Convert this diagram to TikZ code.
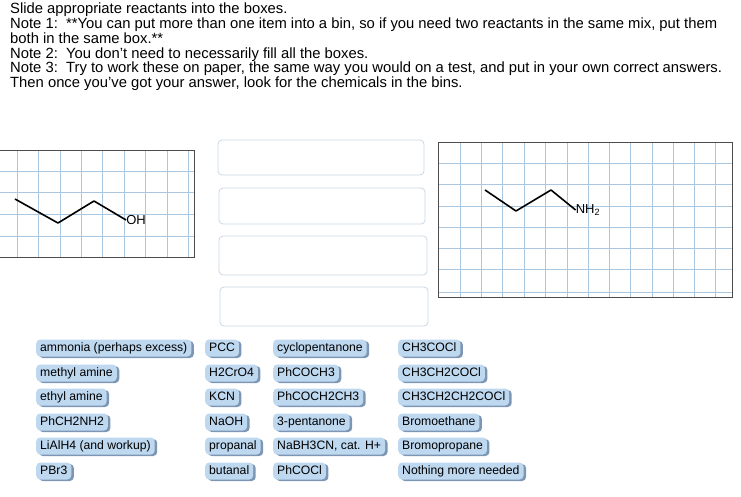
\documentclass[tikz,border=0pt]{standalone}
\usepackage{fontspec}
\setmainfont{Liberation Sans}
\begin{document}
\begin{tikzpicture}[x=1pt,y=-1pt,
  gridl/.style={draw={rgb,255:red,170;green,200;blue,225}, line width=0.8pt},
  frame/.style={draw=black!70, line width=0.9pt},
  bond/.style={line width=1.6pt, line join=round},
  slot/.style={draw={rgb,255:red,200;green,215;blue,230}, rounded corners=4pt, line width=0.8pt},
  tile/.style={fill={rgb,255:red,190;green,216;blue,240}, rounded corners=4pt, inner xsep=4pt, inner ysep=2.5pt, text height=9pt, text depth=3pt, anchor=west, font=\fontsize{12.2}{14}\selectfont,
    preaction={fill={rgb,255:red,125;green,150;blue,180}, transform canvas={shift={(2.5pt,-1.5pt)}}}},
  hdr/.style={anchor=north west, inner sep=0pt, align=left, font=\fontsize{14.8}{14.7}\selectfont}]
\useasboundingbox (0,0) rectangle (741,496);
\node[hdr] (h) at (10,3) {Slide appropriate reactants into the boxes.\\
Note 1:\ \ **You can put more than one item into a bin, so if you need two reactants in the same mix, put them\\
both in the same box.**\\
Note 2:\ \ You don't need to necessarily fill all the boxes.\\
Note 3:\ \ Try to work these on paper, the same way you would on a test, and put in your own correct answers.\\
Then once you've got your answer, look for the chemicals in the bins.};
% left grid
\foreach \x in {17,38,60,81,102,124,145,167,188} \draw[gridl] (\x,150) -- (\x,257);
\foreach \y in {171,192,214,236} \draw[gridl] (0,\y) -- (194,\y);
\draw[frame] (0,150) -- (194,150) -- (194,257) -- (0,257);
\coordinate (a1) at (15,199); \coordinate (a2) at (58,223); \coordinate (a3) at (94,201);
\node[inner sep=0pt, font=\fontsize{13}{14}\selectfont] (oh) at (136,220) {OH};
\draw[bond] (a1) -- (a2) -- (a3) -- (oh.west);
% right grid
\foreach \x in {460,481,502,524,545,567,588,609,630,652,673,694,715} \draw[gridl] (\x,142) -- (\x,297);
\foreach \y in {163,184,206,227,248,269,292} \draw[gridl] (438,\y) -- (732,\y);
\draw[frame] (438,142) rectangle (732,297);
\coordinate (b1) at (485,190); \coordinate (b2) at (516,211); \coordinate (b3) at (551,190);
\node[inner sep=0pt, font=\fontsize{13}{14}\selectfont] (nh) at (588,210) {NH\textsubscript{2}};
\draw[bond] (b1) -- (b2) -- (b3) -- (nh.west);
% slots
\draw[slot] (218,140) rectangle (424,175);
\draw[slot] (219,188) rectangle (425,224);
\draw[slot] (219,236) rectangle (427,275);
\draw[slot] (220,287) rectangle (428,326);
% tiles
\foreach \t/\x/\y/\s in {
 ammonia (perhaps excess)/36/348/1, methyl amine/36/373/2, ethyl amine/36/397/3, PhCH2NH2/36/422/4, LiAlH4 (and workup)/36/446/5, PBr3/36/471/6,
 PCC/205/348/7, H2CrO4/205/373/8, KCN/205/397/9, NaOH/205/422/10, propanal/205/446/11, butanal/205/471/12,
 cyclopentanone/273/348/13, PhCOCH3/273/373/14, PhCOCH2CH3/273/397/15, 3-pentanone/273/422/16, {NaBH3CN, cat. H+}/273/446/17, PhCOCl/273/471/18,
 CH3COCl/398/348/19, CH3CH2COCl/398/373/20, CH3CH2CH2COCl/398/397/21, Bromoethane/398/422/22, Bromopropane/398/446/23, Nothing more needed/398/471/24}{
  \node[tile] (t\s) at (\x,\y) {\t};
}
\end{tikzpicture}
\end{document}
